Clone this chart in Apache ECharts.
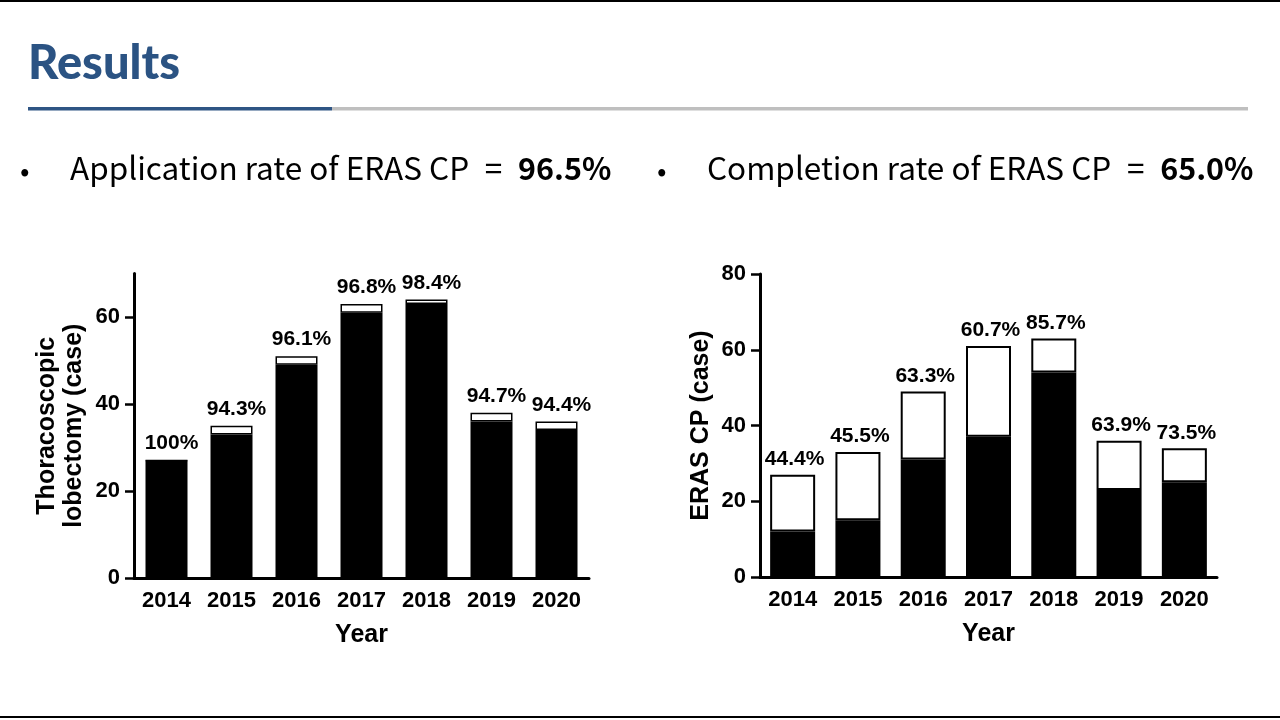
<!DOCTYPE html>
<html><head><meta charset="utf-8">
<script src="https://cdn.jsdelivr.net/npm/echarts@6/dist/echarts.min.js"></script>
<style>html,body{margin:0;padding:0;background:#fff}#c{width:1280px;height:720px}</style>
</head><body><div id="c"></div>
<script>
// ---- data ----
const years = ['2014', '2015', '2016', '2017', '2018', '2019', '2020'];
const lobectomyWithCP = [27, 33, 49, 61, 63, 36, 34];
const lobectomyWithoutCP = [0, 2, 2, 2, 1, 2, 2];
const applicationRates = ['100%', '94.3%', '96.1%', '96.8%', '98.4%', '94.7%', '94.4%'];
const cpCompleted = [12, 15, 31, 37, 54, 23, 25];
const cpNotCompleted = [15, 18, 18, 24, 9, 13, 9];
const completionRates = ['44.4%', '45.5%', '63.3%', '60.7%', '85.7%', '63.9%', '73.5%'];
const leftTicks = [0, 20, 40, 60];
const rightTicks = [0, 20, 40, 60, 80];
const titleText = 'Results';
const bullet1 = ['Application rate of ERAS CP\u2002=\u2002', '96.5%'];
const bullet2 = ['Completion rate of ERAS CP\u2002=\u2002', '65.0%'];

// ---- styles ----
const F = '"Liberation Sans", Arial, sans-serif';
const axisText = { color: '#000', fontFamily: F, fontWeight: 'bold', fontSize: 22 };

function xAxisCfg(gi) {
  return {
    type: 'category', gridIndex: gi, data: years,
    name: 'Year', nameLocation: 'middle', nameGap: 45,
    nameTextStyle: { color: '#000', fontFamily: F, fontWeight: 'bold', fontSize: 25 },
    axisLine: { lineStyle: { color: '#000', width: 3 } },
    axisTick: { alignWithLabel: true, length: 8, lineStyle: { color: '#000', width: 2.5 } },
    axisLabel: Object.assign({ margin: 12 }, axisText)
  };
}
function yAxisCfg(gi, max, ticks, name, gap) {
  return {
    type: 'value', gridIndex: gi, min: 0, max: max,
    name: name, nameLocation: 'middle', nameGap: gap,
    nameTextStyle: { color: '#000', fontFamily: F, fontWeight: 'bold', fontSize: 25, lineHeight: 27, align: 'center' },
    splitLine: { show: false },
    axisLine: { show: true, lineStyle: { color: '#000', width: 3 } },
    axisTick: { show: true, length: 9, customValues: ticks, lineStyle: { color: '#000', width: 2.5 } },
    axisLabel: Object.assign({ margin: 14, customValues: ticks }, axisText)
  };
}
function barPair(gi, black, white, labels, barW, offX, dist, bw) {
  return [
    {
      type: 'bar', xAxisIndex: gi, yAxisIndex: gi, stack: 's' + gi, data: black,
      barWidth: barW, silent: true, z: 2,
      itemStyle: { color: '#000', borderColor: '#000', borderWidth: bw }
    },
    {
      type: 'bar', xAxisIndex: gi, yAxisIndex: gi, stack: 's' + gi, data: white,
      barWidth: barW, silent: true, z: 3,
      itemStyle: { color: '#fff', borderColor: '#000', borderWidth: bw },
      label: {
        show: true, position: 'top', distance: dist, offset: [offX, 0],
        formatter: p => labels[p.dataIndex],
        color: '#000', fontFamily: F, fontWeight: 'bold', fontSize: 21
      }
    }
  ];
}

const chart = echarts.init(document.getElementById('c'), null, { renderer: 'canvas' });
chart.setOption({
  backgroundColor: '#fff',
  animation: false,
  grid: [
    { left: 134, right: 691, top: 273.5, bottom: 142 },
    { left: 760, right: 63, top: 274, bottom: 143 }
  ],
  xAxis: [xAxisCfg(0), xAxisCfg(1)],
  yAxis: [
    yAxisCfg(0, 70, leftTicks, 'Thoracoscopic\nlobectomy (case)', 46),
    yAxisCfg(1, 80, rightTicks, 'ERAS CP (case)', 45)
  ],
  series: [].concat(
    barPair(0, lobectomyWithCP, lobectomyWithoutCP, applicationRates, 42, 5, 6, 1.5),
    barPair(1, cpCompleted, cpNotCompleted, completionRates, 45, 2, 5, 2)
  ),
  graphic: [
    { type: 'rect', shape: { x: 0, y: 0, width: 1280, height: 2 }, style: { fill: '#000' } },
    { type: 'rect', shape: { x: 0, y: 716, width: 1280, height: 2 }, style: { fill: '#000' } },
    { type: 'text', x: 28, y: 64, style: { text: titleText, font: '900 47px Lato, "Open Sans", sans-serif', fill: '#2B5383', verticalAlign: 'middle' } },
    { type: 'rect', shape: { x: 28, y: 107, width: 304, height: 3.5 }, style: { fill: '#2F5584' } },
    { type: 'rect', shape: { x: 332, y: 107, width: 916, height: 3.5 }, style: { fill: '#BFBFBF' } },
    { type: 'text', x: 20, y: 170, style: { text: '•', font: '28px "Noto Sans CJK KR", sans-serif', fill: '#000', verticalAlign: 'middle' } },
    { type: 'text', x: 70, y: 168, style: {
        text: '{a|' + bullet1[0] + '}{b|' + bullet1[1] + '}', verticalAlign: 'middle',
        rich: { a: { fontFamily: '"Noto Sans CJK KR", sans-serif', fontSize: 31.5, color: '#000' },
                b: { fontFamily: '"Noto Sans CJK KR", sans-serif', fontSize: 30.5, fontWeight: 'bold', color: '#000' } } } },
    { type: 'text', x: 657, y: 170, style: { text: '•', font: '28px "Noto Sans CJK KR", sans-serif', fill: '#000', verticalAlign: 'middle' } },
    { type: 'text', x: 707, y: 168, style: {
        text: '{a|' + bullet2[0] + '}{b|' + bullet2[1] + '}', verticalAlign: 'middle',
        rich: { a: { fontFamily: '"Noto Sans CJK KR", sans-serif', fontSize: 31.5, color: '#000' },
                b: { fontFamily: '"Noto Sans CJK KR", sans-serif', fontSize: 30.5, fontWeight: 'bold', color: '#000' } } } }
  ]
});
</script></body></html>
